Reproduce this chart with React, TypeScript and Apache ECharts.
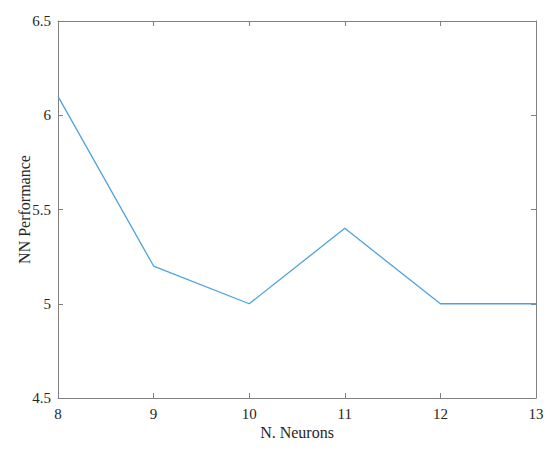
import React, { useEffect, useRef } from "react";
import * as echarts from "echarts";

const neurons = [8, 9, 10, 11, 12, 13];
const performance = [6.1, 5.2, 5.0, 5.4, 5.0, 5.0];

const axisGray = "#808080";
const textColor = "#262626";
const font = "Times New Roman, Liberation Serif, DejaVu Serif, serif";

const App = () => {
  const chartRef = useRef<HTMLDivElement>(null);

  useEffect(() => {
    const chart = echarts.init(chartRef.current, null, { renderer: "svg" });

    const boxAxis = {
      axisLine: { show: true, lineStyle: { color: axisGray, width: 1 } },
      axisTick: { show: true, inside: true, length: 5, lineStyle: { color: axisGray } },
      splitLine: { show: false },
    };

    const option = {
      animation: false,
      backgroundColor: "#ffffff",
      textStyle: { fontFamily: font },
      grid: { left: 58, right: 14, top: 21, bottom: 52, outerBoundsMode: "none" },
      xAxis: [
        {
          type: "value",
          min: 8,
          max: 13,
          interval: 1,
          position: "bottom",
          name: "N. Neurons",
          nameLocation: "middle",
          nameGap: 26,
          nameMoveOverlap: false,
          nameTextStyle: { fontFamily: font, fontSize: 16, color: textColor },
          axisLabel: { margin: 8, fontFamily: font, fontSize: 15, color: textColor },
          ...boxAxis,
        },
        {
          type: "value",
          min: 8,
          max: 13,
          interval: 1,
          position: "top",
          axisLabel: { show: false },
          ...boxAxis,
        },
      ],
      yAxis: [
        {
          type: "value",
          min: 4.5,
          max: 6.5,
          interval: 0.5,
          position: "left",
          name: "NN Performance",
          nameLocation: "middle",
          nameGap: 26,
          nameMoveOverlap: false,
          nameTextStyle: { fontFamily: font, fontSize: 16, color: textColor },
          axisLabel: { margin: 7, fontFamily: font, fontSize: 15, color: textColor },
          ...boxAxis,
        },
        {
          type: "value",
          min: 4.5,
          max: 6.5,
          interval: 0.5,
          position: "right",
          axisLabel: { show: false },
          ...boxAxis,
        },
      ],
      series: [
        {
          type: "line",
          data: neurons.map((n, i) => [n, performance[i]]),
          showSymbol: false,
          lineStyle: { color: "#4ea3dc", width: 1.3 },
          xAxisIndex: 0,
          yAxisIndex: 0,
        },
      ],
    };

    chart.setOption(option);
    return () => {
      chart.dispose();
    };
  }, []);

  return (
    <div
      ref={chartRef}
      style={{ position: "fixed", left: 0, top: 0, width: 550, height: 450 }}
    />
  );
};

export default App;
